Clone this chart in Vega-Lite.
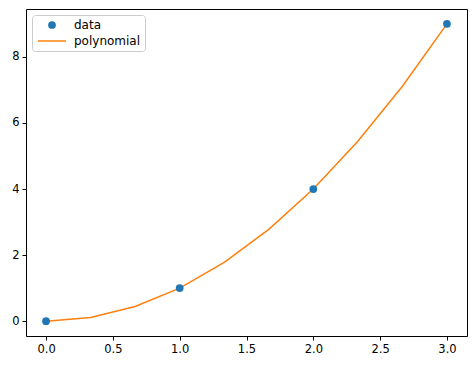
{
  "$schema": "https://vega.github.io/schema/vega-lite/v6.json",
  "width": 441,
  "height": 327,
  "padding": {"left": 26, "top": 9, "right": 7, "bottom": 30},
  "autosize": {"type": "none"},
  "config": {
    "font": "DejaVu Sans",
    "view": {"stroke": "#000000", "strokeWidth": 1},
    "axis": {
      "grid": false,
      "domain": false,
      "tickColor": "#000000",
      "tickSize": 4,
      "labelColor": "#000000",
      "labelFontSize": 11.5,
      "labelFont": "DejaVu Sans",
      "title": null
    }
  },
  "datasets": {
    "pts": [
      {"x": 0, "y": 0, "series": "data"},
      {"x": 1, "y": 1, "series": "data"},
      {"x": 2, "y": 4, "series": "data"},
      {"x": 3, "y": 9, "series": "data"}
    ],
    "poly": [
      {"x": 0, "y": 0, "series": "polynomial"},
      {"x": 0.3333, "y": 0.1111, "series": "polynomial"},
      {"x": 0.6667, "y": 0.4444, "series": "polynomial"},
      {"x": 1, "y": 1, "series": "polynomial"},
      {"x": 1.3333, "y": 1.7778, "series": "polynomial"},
      {"x": 1.6667, "y": 2.7778, "series": "polynomial"},
      {"x": 2, "y": 4, "series": "polynomial"},
      {"x": 2.3333, "y": 5.4444, "series": "polynomial"},
      {"x": 2.6667, "y": 7.1111, "series": "polynomial"},
      {"x": 3, "y": 9, "series": "polynomial"}
    ]
  },
  "encoding": {
    "x": {
      "field": "x", "type": "quantitative",
      "scale": {"domain": [-0.15, 3.15], "nice": false, "zero": false},
      "axis": {"values": [0, 0.5, 1, 1.5, 2, 2.5, 3], "format": ".1f", "labelPadding": 3}
    },
    "y": {
      "field": "y", "type": "quantitative",
      "scale": {"domain": [-0.45, 9.45], "nice": false, "zero": false},
      "axis": {"values": [0, 2, 4, 6, 8], "format": "d", "labelPadding": 3}
    },
    "color": {
      "field": "series", "type": "nominal",
      "scale": {"domain": ["data", "polynomial"], "range": ["#1f77b4", "#ff7f0e"]},
      "legend": {
        "title": null,
        "orient": "none",
        "legendX": 6,
        "legendY": 6,
        "fillColor": "#ffffff",
        "strokeColor": "#cccccc",
        "cornerRadius": 3,
        "padding": 4,
        "labelFontSize": 12,
        "labelColor": "#000000",
        "symbolSize": 60,
        "rowPadding": 4,
        "labelOffset": 10,
        "encode": {
          "symbols": {
            "update": {
              "x": {"value": 16},
              "size": {"signal": "datum.value === 'data' ? 60 : 784"},
              "strokeWidth": {"signal": "datum.value === 'data' ? 0 : 1.5"},
              "stroke": {"signal": "datum.value === 'data' ? '#1f77b4' : '#ff7f0e'"},
              "fill": {"signal": "datum.value === 'data' ? '#1f77b4' : 'transparent'"}
            }
          },
          "labels": {
            "update": {
              "x": {"value": 38}
            }
          }
        }
      }
    },
    "shape": {
      "field": "series", "type": "nominal",
      "scale": {"domain": ["data", "polynomial"], "range": ["circle", "stroke"]},
      "legend": null
    }
  },
  "layer": [
    {
      "data": {"name": "poly"},
      "mark": {"type": "line", "strokeWidth": 1.5, "color": "#ff7f0e"}
    },
    {
      "data": {"name": "pts"},
      "mark": {"type": "point", "filled": true, "size": 60, "opacity": 1}
    }
  ]
}
